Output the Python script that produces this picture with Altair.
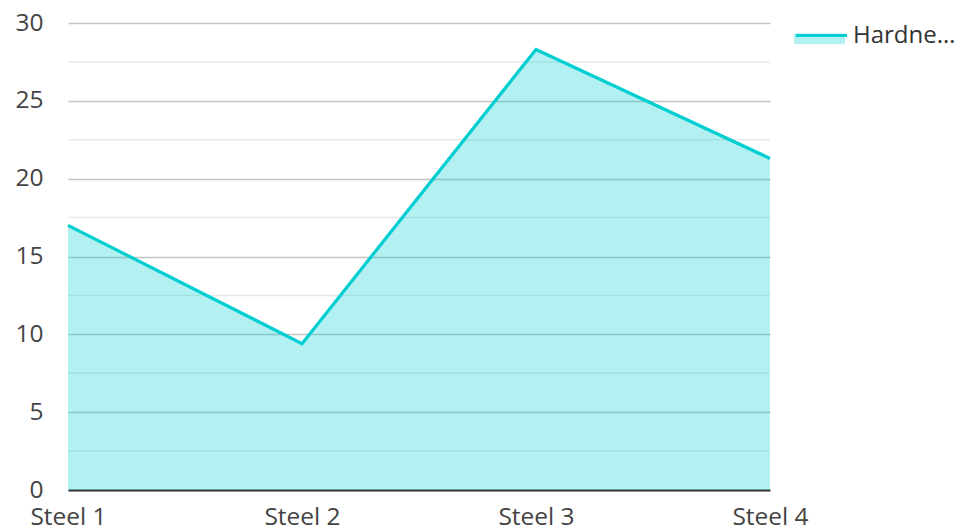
import altair as alt
import pandas as pd

categories = ["Steel 1", "Steel 2", "Steel 3", "Steel 4"]
hardness = [17.0, 9.4, 28.3, 21.3]
series_name = "Hardness (HRC)"
major_ticks = [0, 5, 10, 15, 20, 25, 30]
minor_ticks = [2.5, 7.5, 12.5, 17.5, 22.5, 27.5]

LINE = "#00CED1"
FONT = "Open Sans"
FS = 24.5
LFS = 24

df = pd.DataFrame({"cat": categories, "val": hardness, "series": [series_name] * len(categories)})
minor_df = pd.DataFrame({"v": minor_ticks})

x_enc = alt.X("cat:N", sort=categories, scale=alt.Scale(type="point", padding=0),
              axis=alt.Axis(title=None, labelAngle=0, ticks=False, domain=True, domainColor="#333333",
                            domainWidth=2, grid=False, labelFont=FONT, labelFontSize=FS,
                            labelColor="#444444", labelPadding=15))
y_scale = alt.Scale(domain=[0, 30], nice=False)
y_axis = alt.Axis(title=None, values=major_ticks, ticks=False, domain=False, grid=True,
                  gridColor="#c4c4c4", gridWidth=1.5, labelFont=FONT, labelFontSize=FS,
                  labelColor="#444444", labelPadding=25)

minor = alt.Chart(minor_df).mark_rule(color="#e8e8e8", strokeWidth=1.5).encode(
    y=alt.Y("v:Q", scale=y_scale, axis=y_axis)
)

area = alt.Chart(df).mark_area(fillOpacity=0.3, strokeWidth=0).encode(
    x=x_enc,
    y=alt.Y("val:Q", scale=y_scale, axis=y_axis),
    fill=alt.Fill("series:N", scale=alt.Scale(range=[LINE]),
                  legend=alt.Legend(title=None, orient="none", legendX=726, legendY=-15,
                                    symbolType="M-1,0H1V0.42H-1Z", symbolSize=2601,
                                    symbolOpacity=0.3, symbolStrokeWidth=0,
                                    labelFont=FONT, labelFontSize=LFS, labelColor="#333333",
                                    labelExpr="''")),
)

line = alt.Chart(df).mark_line(strokeWidth=3.2).encode(
    x=x_enc,
    y=alt.Y("val:Q", scale=y_scale, axis=y_axis),
    stroke=alt.Stroke("series:N", scale=alt.Scale(range=[LINE]),
                      legend=alt.Legend(title=None, orient="none", legendX=726, legendY=-15,
                                        symbolType="stroke", symbolSize=2601, symbolStrokeWidth=3.2,
                                        labelFont=FONT, labelFontSize=LFS, labelColor="#333333",
                                        labelLimit=104)),
)

chart = alt.layer(minor, area, line).resolve_scale(fill="independent", stroke="independent").properties(
    width=702, height=467,
    padding={"left": 60, "top": 15, "right": 184, "bottom": 41},
    autosize=alt.AutoSizeParams(type="none"),
    background="white",
).configure_view(stroke=None)

chart.save("out.html", embed_options={"renderer": "svg", "actions": False})
